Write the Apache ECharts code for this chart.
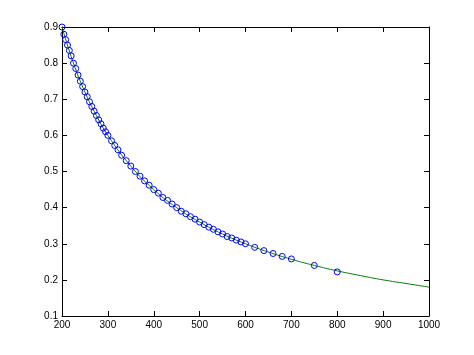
<!DOCTYPE html>
<html><head><meta charset="utf-8">
<script src="https://cdn.jsdelivr.net/npm/echarts@6/dist/echarts.min.js"></script>
<style>html,body{margin:0;padding:0;background:#fff}#c{width:474px;height:355px}</style>
</head><body><div id="c"></div>
<script>
// measured points (x, y)
const pointX = [200,204,208,212,216,220,225,230,235,240,245,250,255,260,265,270,275,280,285,290,295,300,308,315,322,330,340,350,360,370,380,390,400,410,420,430,440,450,460,470,480,490,500,510,520,530,540,550,560,570,580,590,600,620,640,660,680,700,750,800];
const pointY = [0.90,0.88,0.865,0.85,0.835,0.82,0.80,0.785,0.767,0.75,0.735,0.72,0.707,0.693,0.68,0.667,0.655,0.643,0.632,0.62,0.61,0.60,0.585,0.572,0.56,0.545,0.53,0.515,0.50,0.487,0.474,0.462,0.45,0.44,0.428,0.42,0.41,0.40,0.39,0.383,0.375,0.368,0.36,0.353,0.346,0.34,0.333,0.327,0.32,0.316,0.31,0.305,0.30,0.29,0.281,0.273,0.265,0.258,0.24,0.222];
// fitted curve (x, y)
const fitX = [200,225,250,275,300,350,400,450,500,550,600,650,700,750,800,850,900,950,1000];
const fitY = [0.90,0.80,0.72,0.655,0.60,0.515,0.45,0.40,0.36,0.327,0.30,0.277,0.257,0.24,0.225,0.212,0.20,0.19,0.18];
const xTicks = [200,300,400,500,600,700,800,900,1000];
const yTicks = [0.1,0.2,0.3,0.4,0.5,0.6,0.7,0.8,0.9];

const chart = echarts.init(document.getElementById('c'), null, {renderer:'canvas'});
const axLine = {show:true, lineStyle:{color:'#000', width:1}};
const tick = {show:true, inside:true, length:5, lineStyle:{color:'#000'}};
const lbl = {fontFamily:'Liberation Sans, Arial', fontSize:10, color:'#000'};
chart.setOption({
  animation:false,
  grid:{left:62, top:27, right:45, bottom:39, containLabel:false},
  xAxis:[
    {type:'value', position:'bottom', min:200, max:1000, interval:100, axisLine:axLine, axisTick:tick, splitLine:{show:false},
     axisLabel:Object.assign({margin:4, formatter:v=>xTicks.includes(v)?String(v):''}, lbl)},
    {type:'value', position:'top', min:200, max:1000, interval:100, axisLine:axLine, axisTick:tick, splitLine:{show:false}, axisLabel:{show:false}}
  ],
  yAxis:[
    {type:'value', position:'left', min:0.1, max:0.9, interval:0.1, axisLine:axLine, axisTick:tick, splitLine:{show:false},
     axisLabel:Object.assign({margin:4, formatter:v=>{const t=yTicks.find(k=>Math.abs(k-v)<1e-6);return t!==undefined?t.toFixed(1):'';}}, lbl)},
    {type:'value', position:'right', min:0.1, max:0.9, interval:0.1, axisLine:axLine, axisTick:tick, splitLine:{show:false}, axisLabel:{show:false}}
  ],
  series:[
    {type:'line', data:fitX.map((x,i)=>[x,fitY[i]]), smooth:true, showSymbol:false, lineStyle:{color:'#008000', width:1}, z:2},
    {type:'scatter', data:pointX.map((x,i)=>[x,pointY[i]]), symbol:'circle', symbolSize:6,
     itemStyle:{color:'rgba(255,255,255,0)', borderColor:'#0000ff', borderWidth:1, opacity:1}, z:3}
  ]
});
</script></body></html>
